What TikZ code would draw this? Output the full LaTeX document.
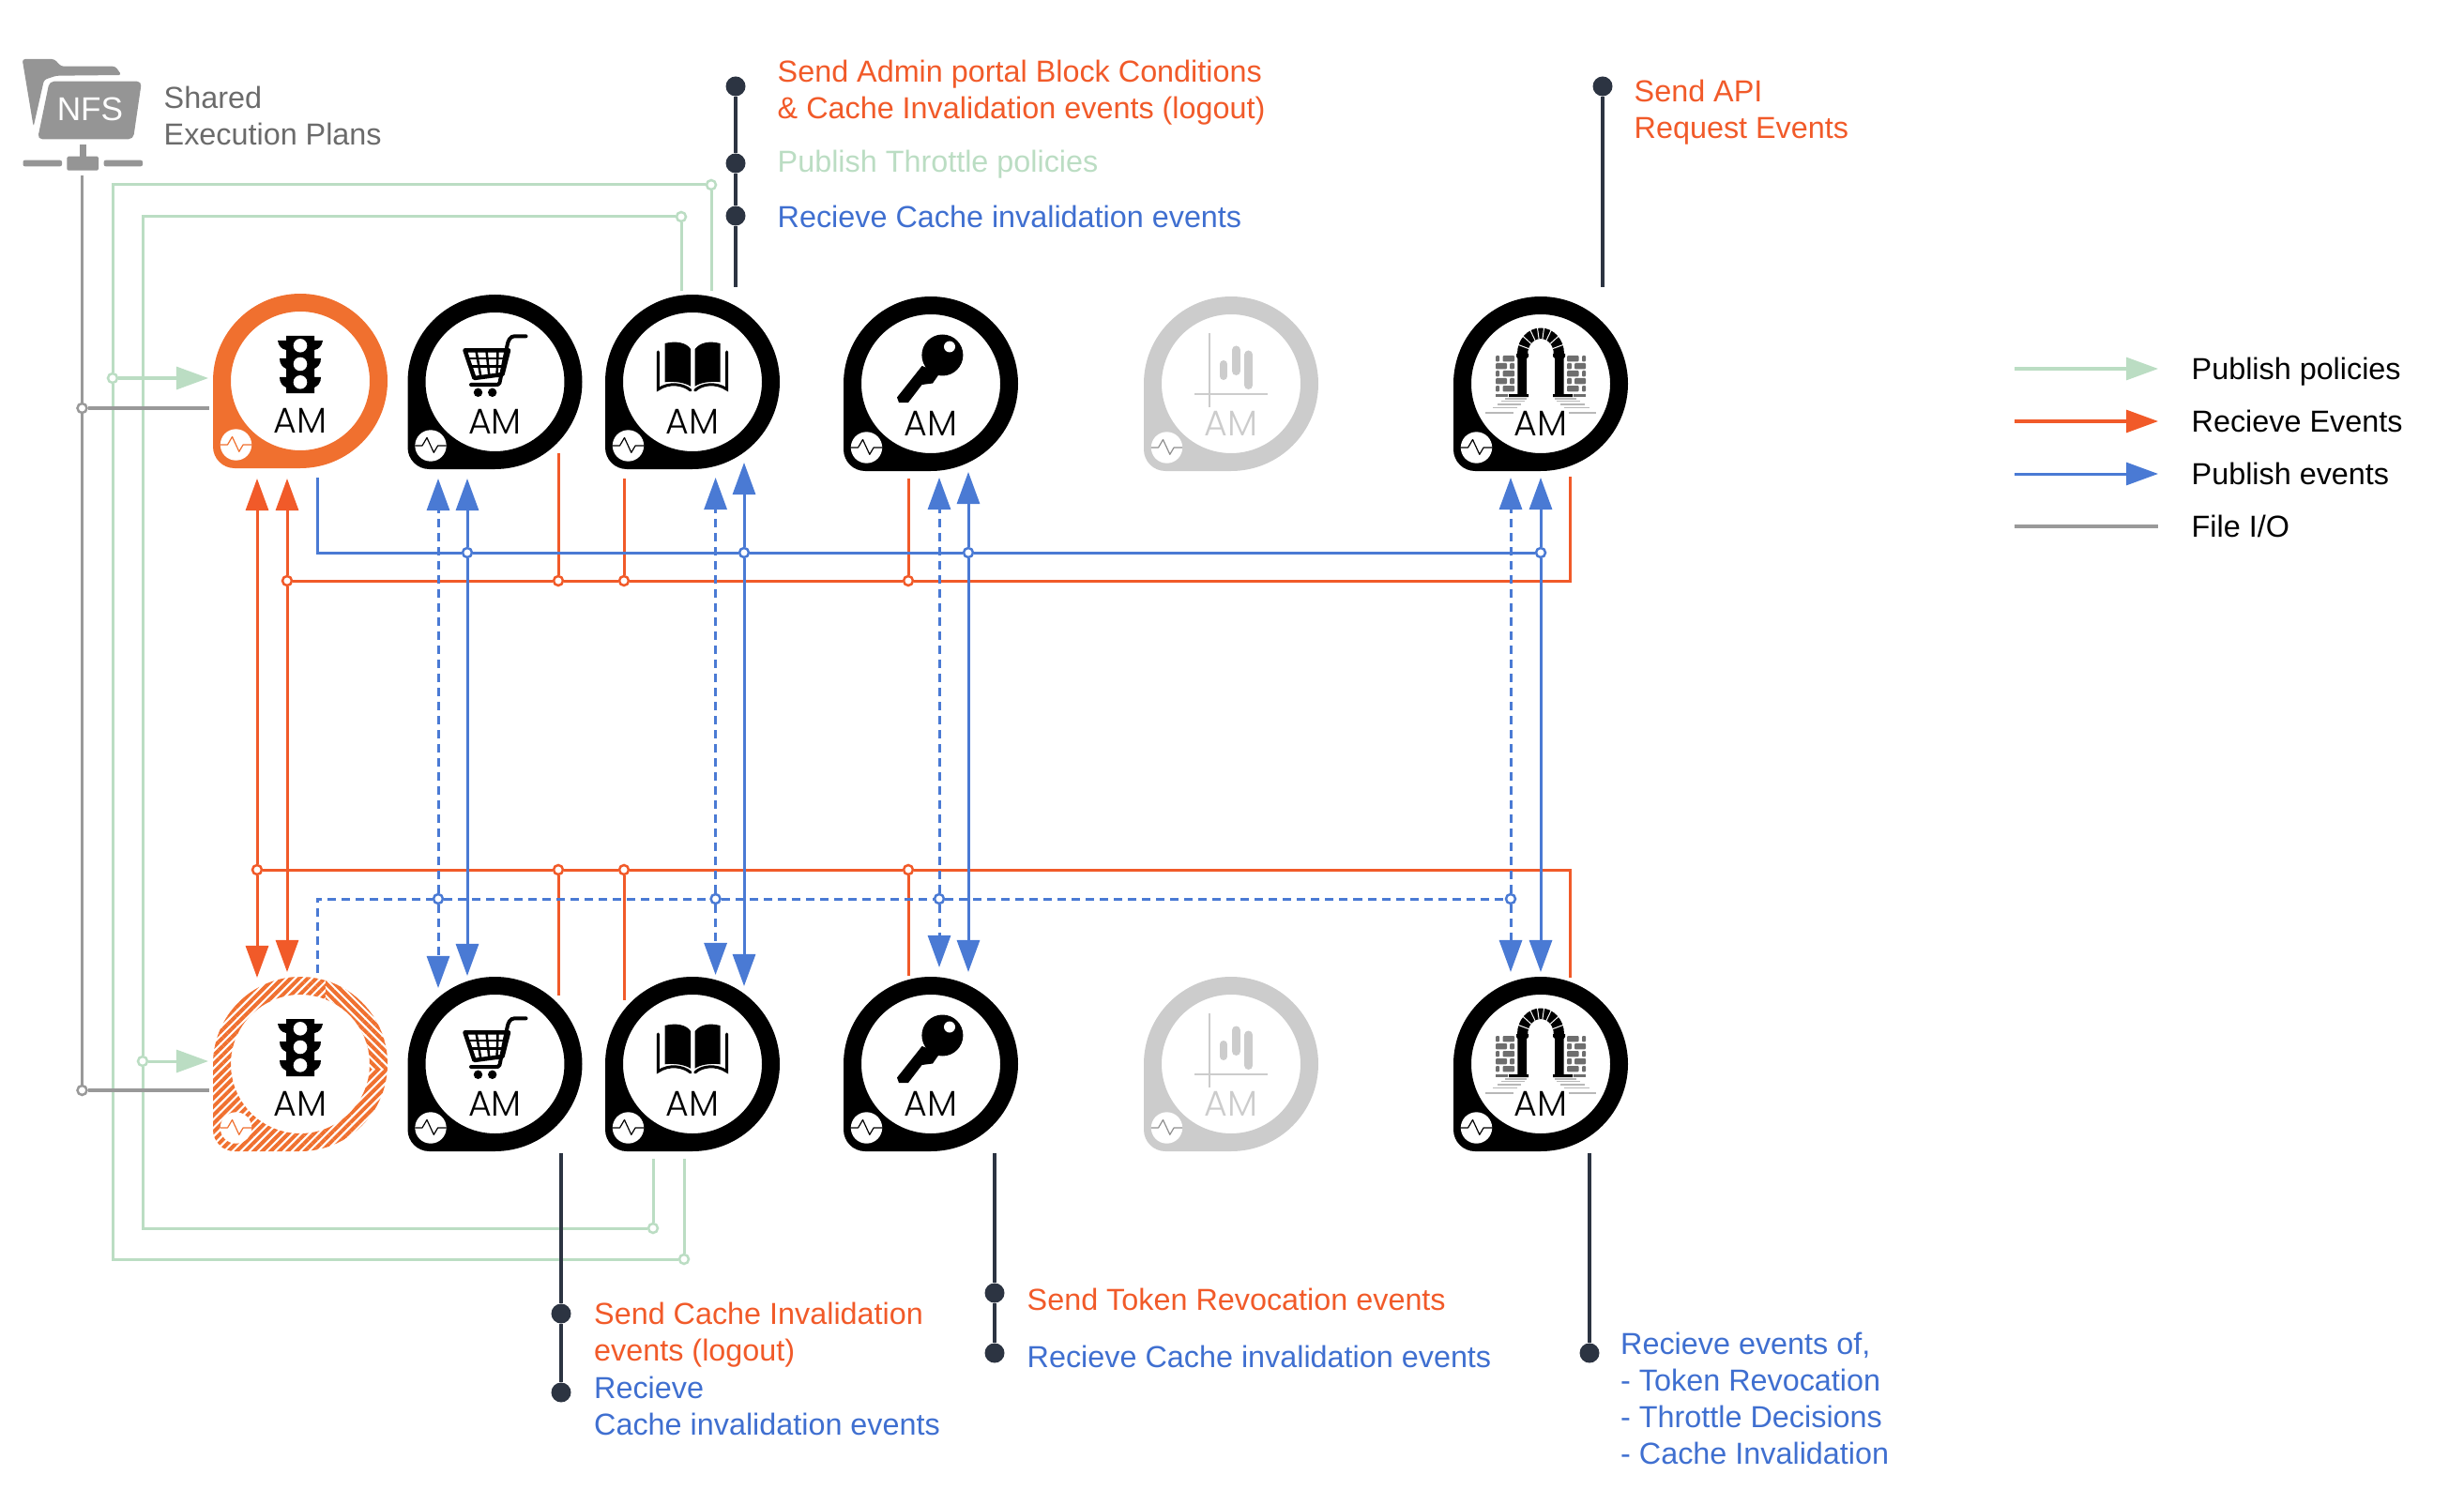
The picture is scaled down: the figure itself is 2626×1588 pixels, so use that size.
\documentclass[tikz,border=0pt]{standalone}
\usepackage{fontspec}
\usepackage{xcolor}
\setmainfont{Liberation Sans}
\newfontfamily\amfont{Poppins Light}
\usetikzlibrary{arrows.meta, calc, patterns.meta}
\definecolor{PolicyGreen}{HTML}{BBDDC3}
\definecolor{EventOrange}{HTML}{F15A29}
\definecolor{RingOrange}{HTML}{F0702F}
\definecolor{EventBlue}{HTML}{4A7AD4}
\definecolor{TextBlue}{HTML}{3F6FD0}
\definecolor{FileGray}{HTML}{999999}
\definecolor{FolderGray}{HTML}{959595}
\definecolor{FadedGray}{HTML}{CCCCCC}
\definecolor{Charcoal}{HTML}{2C3442}
\definecolor{LabelGray}{HTML}{6B6B6B}
\definecolor{BrickGray}{HTML}{6E6E6E}
\newcommand{\labelsize}{\fontsize{9.2}{11.1}\selectfont}
\tikzset{
    >={Triangle[length=0.34cm,width=0.24cm]},
    % connectors
    policy/.style={draw=PolicyGreen, line width=0.03cm},
    recv/.style={draw=EventOrange, line width=0.03cm},
    publish/.style={draw=EventBlue, line width=0.03cm},
    publishdash/.style={publish, dash pattern=on 0.09cm off 0.06cm},
    fileio/.style={draw=FileGray, line width=0.035cm},
    probe/.style={draw=Charcoal, line width=0.035cm},
    % junctions
    junction/.style={circle, fill=white, line width=0.025cm, inner sep=0pt, minimum size=0.1cm},
    policydot/.style={junction, draw=PolicyGreen},
    recvdot/.style={junction, draw=EventOrange},
    publishdot/.style={junction, draw=EventBlue},
    filedot/.style={junction, draw=FileGray},
    probedot/.style={circle, fill=Charcoal, inner sep=0pt, minimum size=0.21cm},
    % labels
    txt/.style={anchor=west, inner sep=0pt, align=left, font=\labelsize},
    txtorange/.style={txt, text=EventOrange},
    txtblue/.style={txt, text=TextBlue},
    txtgreen/.style={txt, text=PolicyGreen},
    % AM rings
    ringpath/.style={insert path={(-93,0) arc (180:450:93) -- (-70,93) arc (90:180:23) -- cycle (0,0) circle (74)}},
    ringorange/.style={fill=RingOrange},
    ringblack/.style={fill=black},
    ringgray/.style={fill=FadedGray},
    ringhatch/.style={pattern={Lines[angle=45,distance=0.064cm,line width=0.04cm]}, pattern color=RingOrange},
    ringhatchb/.style={pattern={Lines[angle=-45,distance=0.064cm,line width=0.04cm]}, pattern color=RingOrange},
    amlabel/.style={inner sep=0pt, font=\amfont\fontsize{10.8}{12}\selectfont},
}
% icons, drawn round the centre of a ring in the colour amink
\newcommand{\icontraffic}{
    \fill[amink] (-15,-48) -- (15,-48) -- (15,-43) -- (24,-43) .. controls (23,-37) and (20,-34) .. (15,-33)
        -- (15,-24) -- (22,-24) .. controls (22,-18) and (19,-15) .. (15,-13)
        -- (15,-4) -- (22,-4) .. controls (22,2) and (19,5) .. (15,7) -- (15,13) -- (-15,13) -- (-15,7)
        .. controls (-19,5) and (-22,2) .. (-22,-4) -- (-15,-4) -- (-15,-13)
        .. controls (-19,-15) and (-22,-18) .. (-22,-24) -- (-15,-24) -- (-15,-33)
        .. controls (-20,-34) and (-23,-37) .. (-24,-43) -- (-15,-43) -- cycle;
    \foreach \ly in {-37.7,-18,1.3} {\fill[white] (0,\ly) circle (7.3);}
}
\newcommand{\iconcart}{
    \draw[amink, line width=0.04cm, line cap=round, line join=round]
        (33,-48.7) -- (21,-48.7) .. controls (16,-48.7) and (14,-44) .. (13,-38.7) -- (5,1)
        .. controls (4,3) and (3,3) .. (1,3) -- (-25.5,3);
    \draw[amink, line width=0.045cm, line join=round] (-32,-33.7) -- (14.5,-33.7) -- (8,-8) -- (-22,-4) -- cycle;
    \draw[amink, line width=0.025cm] (-29.5,-25) -- (12,-25) (-27,-16.5) -- (10,-16.5);
    \foreach \gt/\gb in {-20/-15, -9/-6, 3/2} {\draw[amink, line width=0.025cm] (\gt,-33) -- (\gb,-5);}
    \fill[amink] (-18,11.3) circle (4.7) (-2.8,11.3) circle (4.7);
}
\newcommand{\iconbook}{
    \fill[amink] (-29.5,-41) .. controls (-18,-44) and (-6,-42) .. (-2,-35) -- (-2,4.7)
        .. controls (-8,1) and (-18,-1) .. (-29.5,0.3) -- cycle;
    \fill[amink] (29.5,-41) .. controls (18,-44) and (8,-42) .. (2.7,-35) -- (2.7,4.7)
        .. controls (8,1) and (18,-1) .. (29.5,0.3) -- cycle;
    \draw[amink, line width=0.03cm, line cap=round] (-36.7,-32) -- (-36.7,8) .. controls (-25,0) and (-10,2) .. (-2,9);
    \draw[amink, line width=0.03cm, line cap=round] (36.7,-32) -- (36.7,8) .. controls (25,0) and (10,2) .. (2.7,9);
}
\newcommand{\iconkey}{
    \fill[amink] (12.4,-30.5) circle (22);
    \fill[amink] (-9.4,-19) -- (-36,14.5) -- (-34,20) -- (-24,20) -- (-9.4,1) -- (2,-0.5) -- (10,-12) -- cycle;
    \fill[white] (20,-39.5) circle (6);
}
\newcommand{\iconchart}{
    \draw[amink, line width=0.025cm] (-23,-54) -- (-23,24.5) (-38.7,11) -- (38.7,11);
    \draw[amink, line width=0.08cm, line cap=round] (-8,-21) -- (-8,-8);
    \draw[amink, line width=0.09cm, line cap=round] (5.4,-36) -- (5.4,-13.5);
    \draw[amink, line width=0.09cm, line cap=round] (18.7,-31) -- (18.7,1.5);
}
\newcommand{\icongate}{
    \foreach \sd in {-1,1} {
        \begin{scope}[xscale=\sd]
            \fill[amink] (24.7,-32) -- (13,-32) -- (13,-29) -- (15,-27) -- (15,11) -- (13,11) -- (13,14) -- (34,14) -- (34,11) -- (24.7,11) -- (24.7,-27) -- (26,-29) -- (26,-32) -- cycle;
            \foreach \ry/\xa/\xb/\xc/\xd in {-30/28/40.5/44/48, -22/28/33/36/48, -14/28/40.5/44/48, -6/28/33/36/48, 2/28/40.5/44/48} {
                \fill[BrickGray, rounded corners=0.01cm] (\xa,\ry) rectangle (\xb,\ry+6.4);
                \fill[BrickGray, rounded corners=0.01cm] (\xc,\ry) rectangle (\xd,\ry+6.4);
            }
            \fill[BrickGray] (35,10.5) rectangle (48,14);
            \foreach \ry/\sa/\sb in {16/15/38, 18.5/17/42, 22/21/46.5, 25.5/25/51.5, 31/29.5/59} {
                \draw[FadedGray!90!black, line width=0.012cm] (\sa,\ry) -- (\sb,\ry);
            }
        \end{scope}
    }
    \begin{scope}[shift={(0,-32)}]
        \fill[amink] (-25,0) arc (180:360:25 and 27.5) -- (13.8,0) arc (360:180:13.8 and 16) -- cycle;
        \foreach \va in {200,222,244,262,278,296,318,340} {
            \draw[white, line width=0.01cm] (\va:13.8 and 16) -- (\va:25.5 and 28);
        }
    \end{scope}
}
% one AM ring: name, x, y, ring style, ink colour, badge colour, icon
\newcommand{\amnode}[7]{
    \begin{scope}[shift={(#2,#3)}]
        \colorlet{amink}{#5}
        \fill[#4, even odd rule, ringpath];
        \fill[white] (-68.5,68) circle (16.7);
        \draw[#6, line width=0.012cm, line join=round] (-85.2,68) -- (-77.5,68) -- (-72.5,59.5) -- (-65.2,75.3) -- (-60.9,68) -- (-51.8,68);
        #7
        \node[amlabel, text=#5] (#1) at (0,42) {AM};
    \end{scope}
}

\begin{document}
\begin{tikzpicture}[x=0.01cm, y=-0.01cm]
    \useasboundingbox (0,0) rectangle (2626,1588);

    % NFS folder
    \fill[FolderGray, rounded corners=0.03cm] (23.7,63) -- (58,63) -- (65,70.7) -- (123,70.7) -- (129.5,80)
        -- (60,80.7) -- (47,85) -- (35.7,135) -- cycle;
    \fill[FolderGray, rounded corners=0.05cm] (52.7,86.7) -- (151,86.7) -- (142,148.3) -- (40,148.3) -- cycle;
    \node[inner sep=0pt, text=white, font=\fontsize{10}{12}\selectfont] (nfs) at (96,116) {NFS};
    \fill[FolderGray] (84.5,154) rectangle (91.5,170);
    \fill[FolderGray, rounded corners=0.015cm] (71.4,166.7) rectangle (105,181.7);
    \fill[FolderGray, rounded corners=0.02cm] (24.5,170.7) rectangle (66,177.3);
    \fill[FolderGray, rounded corners=0.02cm] (110.7,170.7) rectangle (152,177.3);
    \node[txt, text=LabelGray] (nfslabel) at (174,123) {Shared\\Execution Plans};

    % Top row of AM rings
    \amnode{trafficA}{320}{406}{ringorange}{black}{RingOrange}{\icontraffic}
    \amnode{storeA}{527.5}{407}{ringblack}{black}{black}{\iconcart}
    \amnode{publisherA}{738}{407}{ringblack}{black}{black}{\iconbook}
    \amnode{keyA}{992}{409}{ringblack}{black}{black}{\iconkey}
    \amnode{chartA}{1312}{409}{ringgray}{FadedGray}{FadedGray!70!black}{\iconchart}
    \amnode{gateA}{1642}{409}{ringblack}{black}{black}{\icongate}

    % Bottom row of AM rings
    \amnode{trafficB}{320}{1134}{ringhatch}{black}{RingOrange}{\icontraffic}
    \begin{scope}[shift={(320,1134)}]
        \clip (27,-95) rectangle (95,5);
        \fill[white, even odd rule, ringpath];
        \fill[ringhatchb, even odd rule, ringpath];
    \end{scope}
    \amnode{storeB}{527.5}{1134}{ringblack}{black}{black}{\iconcart}
    \amnode{publisherB}{738}{1134}{ringblack}{black}{black}{\iconbook}
    \amnode{keyB}{992}{1134}{ringblack}{black}{black}{\iconkey}
    \amnode{chartB}{1312}{1134}{ringgray}{FadedGray}{FadedGray!70!black}{\iconchart}
    \amnode{gateB}{1642}{1134}{ringblack}{black}{black}{\icongate}

    % Junctions
    \foreach \nm/\px/\py in {pa/120/403, pb/152/1131, pc/726/231, pd/758/197, pe/696/1309, pf/729/1342} {
        \node[policydot] (\nm) at (\px,\py) {};
    }
    \foreach \nm/\px/\py in {fa/87.5/435, fb/87.5/1162} {
        \node[filedot] (\nm) at (\px,\py) {};
    }
    \foreach \nm/\px/\py in {ra/306/619, rb/595/619, rc/665/619, rd/968/619,
                             re/274/927, rf/595/927, rg/665/927, rh/968/927} {
        \node[recvdot] (\nm) at (\px,\py) {};
    }
    \foreach \nm/\px/\py in {ua/498/589, ub/793/589, uc/1032/589, ud/1642/589,
                             ue/467/958, uf/762.6/958, ug/1001/958, uh/1610/958} {
        \node[publishdot] (\nm) at (\px,\py) {};
    }
    \foreach \nm/\px/\py in {da/784/92, db/784/174, dc/784/230, dd/1708/92,
                             de/598/1400, df/598/1484, dg/1060/1378, dh/1060/1442, di/1694/1442} {
        \node[probedot] (\nm) at (\px,\py) {};
    }

    % Free ends of the connectors
    \foreach \nm/\px/\py in {
        c1/120/197, c2/152/231, c3/726/310, c4/758/310, c5/120/1342, c6/152/1309, c7/696/1235, c8/729/1235,
        c9/87.5/187, c10/223/435, c11/223/1162, c12/222/403, c13/222/1131,
        o1/274/510, o2/274/1042, o3/306/510, o4/306/1036, o5/595/483, o6/665/510, o7/968/510,
        o8/1673/508, o9/1673/619, o10/595/1061, o11/665/1066, o12/968/1040, o13/1673/1042, o14/1673/927,
        b1/338/509, b2/338/589, b3/338/1037, b4/338/958,
        s1/498/510, s2/498/1040, s3/793/493, s4/793/1051, s5/1032/503, s6/1032/1036, s7/1642/509, s8/1642/1036,
        h1/467/510, h2/467/1053, h3/762.6/509, h4/762.6/1039, h5/1001/509, h6/1001/1031, h7/1610/509, h8/1610/1036,
        k1/784/306, k2/1708/306, k3/598/1229, k4/1060/1229, k5/1694/1229} {
        \coordinate (\nm) at (\px,\py);
    }

    % Publish policies
    \draw[policy] (pd) -- (c1) -- (pa) -- (c5) -- (pf);
    \draw[policy] (pd) -- (c4);
    \draw[policy] (pf) -- (c8);
    \draw[policy] (pc) -- (c2) -- (pb) -- (c6) -- (pe);
    \draw[policy] (pc) -- (c3);
    \draw[policy] (pe) -- (c7);
    \draw[policy, ->, PolicyGreen] (pa) -- (c12);
    \draw[policy, ->, PolicyGreen] (pb) -- (c13);

    % File I/O
    \draw[fileio] (c9) -- (fa) -- (fb);
    \draw[fileio] (fa) -- (c10);
    \draw[fileio] (fb) -- (c11);

    % Recieve events
    \draw[recv] (ra) -- (rb) -- (rc) -- (rd) -- (o9) -- (o8);
    \draw[recv] (re) -- (rf) -- (rg) -- (rh) -- (o14) -- (o13);
    \draw[recv] (rb) -- (o5);
    \draw[recv] (rc) -- (o6);
    \draw[recv] (rd) -- (o7);
    \draw[recv] (rf) -- (o10);
    \draw[recv] (rg) -- (o11);
    \draw[recv] (rh) -- (o12);
    \foreach \ta/\jn/\tb in {o1/re/o2, o3/ra/o4} {
        \draw[recv, ->, EventOrange] (\jn) -- (\ta);
        \draw[recv, ->, EventOrange] (\jn) -- (\tb);
    }

    % Publish events
    \draw[publish] (b1) -- (b2) -- (ua) -- (ub) -- (uc) -- (ud);
    \draw[publishdash] (b3) -- (b4) -- (ue) -- (uf) -- (ug) -- (uh);
    \foreach \ta/\jn/\tb in {s1/ua/s2, s3/ub/s4, s5/uc/s6, s7/ud/s8} {
        \draw[publish, ->, EventBlue] (\jn) -- (\ta);
        \draw[publish, ->, EventBlue] (\jn) -- (\tb);
    }
    \foreach \ta/\jn/\tb in {h1/ue/h2, h3/uf/h4, h5/ug/h6, h7/uh/h8} {
        \draw[publishdash, ->, EventBlue] (\jn) -- (\ta);
        \draw[publishdash, ->, EventBlue] (\jn) -- (\tb);
    }

    % Event taps
    \draw[probe] (da) -- (db) -- (dc) -- (k1);
    \draw[probe] (dd) -- (k2);
    \draw[probe] (k3) -- (de) -- (df);
    \draw[probe] (k4) -- (dg) -- (dh);
    \draw[probe] (k5) -- (di);

    % Tap labels
    \node[txtorange] (adminlabel) at (828,99) {Send Admin portal Block Conditions\\\& Cache Invalidation events (logout)};
    \node[txtgreen] (throttlelabel) at (828,175.5) {Publish Throttle policies};
    \node[txtblue] (cachelabel) at (828,231) {Recieve Cache invalidation events};
    \node[txtorange] (apilabel) at (1741,120) {Send API\\Request Events};
    \node[txtorange] (storelabel) at (632.5,1423) {Send Cache Invalidation\\events (logout)};
    \node[txtblue] (storecache) at (632.5,1498) {Recieve\\Cache invalidation events};
    \node[txtorange] (tokenlabel) at (1094,1384.5) {Send Token Revocation events};
    \node[txtblue] (keycache) at (1094,1446) {Recieve Cache invalidation events};
    \node[txtblue] (gatelabel) at (1726.5,1490) {Recieve events of,\\- Token Revocation\\- Throttle Decisions\\- Cache Invalidation};

    % Legend
    \foreach \nm/\ly/\tly/\sty/\col/\lbl in {leg1/393/396/policy/PolicyGreen/Publish policies,
                                        leg2/449/449/recv/EventOrange/Recieve Events,
                                        leg3/505/505/publish/EventBlue/Publish events} {
        \coordinate (\nm a) at (2147,\ly);
        \coordinate (\nm b) at (2300,\ly);
        \draw[\sty, ->, \col] (\nm a) -- (\nm b);
        \node[txt] (\nm) at (2335,\tly) {\lbl};
    }
    \coordinate (leg4a) at (2147,561);
    \coordinate (leg4b) at (2300,561);
    \draw[fileio] (leg4a) -- (leg4b);
    \node[txt] (leg4) at (2335,561) {File I/O};
\end{tikzpicture}
\end{document}
